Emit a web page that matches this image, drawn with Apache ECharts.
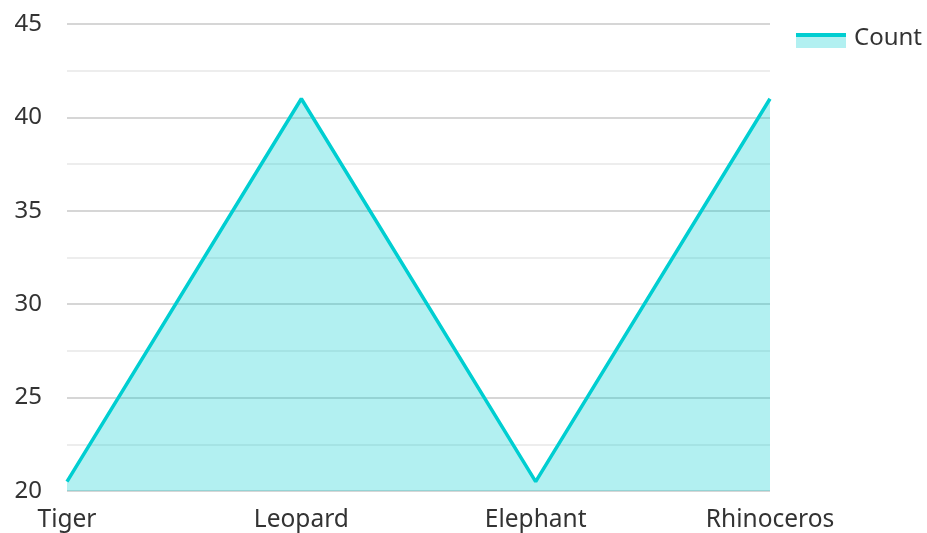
<!DOCTYPE html>
<html><head><meta charset="utf-8">
<script src="https://cdn.jsdelivr.net/npm/echarts@6/dist/echarts.min.js"></script>
<style>html,body{margin:0;padding:0;background:#fff}#c{width:927px;height:533px}</style>
</head><body><div id="c"></div>
<script>
const categories = ['Tiger', 'Leopard', 'Elephant', 'Rhinoceros'];
const countValues = [20.5, 41, 20.5, 41];
const seriesName = 'Count';

const chart = echarts.init(document.getElementById('c'), null, {renderer: 'canvas'});
const font = '"Noto Sans", "Open Sans", sans-serif';
const lineColor = '#00CED1';
const areaColor = 'rgba(0,206,209,0.3)';
chart.setOption({
  animation: false,
  textStyle: {fontFamily: font},
  legend: {
    data: [seriesName],
    right: 0, top: 21, padding: 5,
    itemWidth: 50, itemHeight: 16, itemGap: 10,
    itemStyle: {opacity: 0}, lineStyle: {opacity: 0},
    textStyle: {fontSize: 24, color: '#333', fontFamily: font, padding: [0, 0, 0, 3]}
  },
  graphic: [
    {type: 'rect', shape: {x: 796, y: 36, width: 50, height: 12}, style: {fill: areaColor}, silent: true},
    {type: 'line', shape: {x1: 796, y1: 35, x2: 846, y2: 35}, style: {stroke: lineColor, lineWidth: 4}, silent: true}
  ],
  grid: {left: 67, right: 157, top: 24, bottom: 42},
  xAxis: {
    type: 'category', data: categories, boundaryGap: false,
    axisLine: {show: false}, axisTick: {show: false},
    axisLabel: {fontSize: 24.5, color: '#333', margin: 17, fontFamily: font},
    splitLine: {show: false}
  },
  yAxis: {
    type: 'value', min: 20, max: 45, interval: 5,
    axisLine: {show: false}, axisTick: {show: false},
    axisLabel: {fontSize: 24, color: '#333', margin: 25, fontFamily: font},
    splitLine: {show: true, lineStyle: {color: '#c8c8c8', width: 1.5}},
    minorTick: {show: false, splitNumber: 2},
    minorSplitLine: {show: true, lineStyle: {color: '#e8e8e8', width: 1.5}}
  },
  series: [{
    name: seriesName, type: 'line', data: countValues,
    showSymbol: false, symbol: 'none',
    lineStyle: {color: lineColor, width: 3.5},
    itemStyle: {color: lineColor},
    areaStyle: {color: lineColor, opacity: 0.3, origin: 'start'}
  }]
});
</script></body></html>
